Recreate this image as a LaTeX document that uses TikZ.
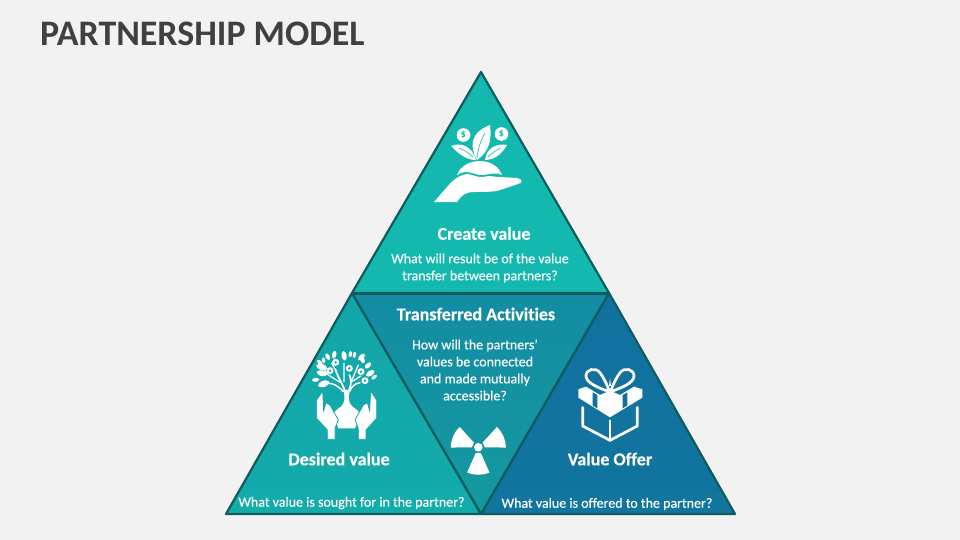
\documentclass[tikz,border=0pt]{standalone}
\usepackage{fontspec}
\setmainfont[Ligatures=CommonOff]{Carlito}
\definecolor{bgc}{HTML}{F2F2F2}
\definecolor{edgec}{HTML}{0E5C60}
\definecolor{titlec}{HTML}{404040}
\definecolor{tealA}{HTML}{13B9AF}
\definecolor{tealB}{HTML}{14ABAB}
\definecolor{tealC}{HTML}{13A6A9}
\definecolor{midA}{HTML}{138CA3}
\definecolor{midB}{HTML}{149A9F}
\definecolor{blueA}{HTML}{11709F}
\definecolor{blueB}{HTML}{11759E}
\tikzset{
  tri/.style={draw=edgec,line width=2.2pt,line join=round},
  head/.style={text=white,inner sep=0pt,font=\bfseries\fontsize{18}{20}\selectfont\addfontfeature{FakeBold=0.3},align=center},
  body/.style={text=white,inner sep=0pt,font=\fontsize{14}{17}\selectfont\addfontfeature{FakeBold=0.3},align=center},
  icoline/.style={draw=white,fill=none,line cap=round,line join=round},
  zoomscale/.style={x=0.3333pt,y=-0.3333pt},
}
\begin{document}
\begin{tikzpicture}[x=1pt,y=-1pt]
\useasboundingbox (0,0) rectangle (960,540);
\fill[bgc] (0,0) rectangle (960,540);
\node[anchor=west,text=titlec,inner sep=0pt,font=\bfseries\fontsize{35.9}{40}\selectfont] (title) at (40,34) {PARTNERSHIP MODEL};
% triangles
\coordinate (apex) at (481,72);
\coordinate (ml) at (352,293);
\coordinate (mr) at (609,293);
\coordinate (bl) at (226,514);
\coordinate (bm) at (481,514);
\coordinate (br) at (735,514);
\shade[top color=tealC,bottom color=tealB] (ml) -- (bm) -- (bl) -- cycle;
\draw[tri] (ml) -- (bm) -- (bl) -- cycle;
\shade[top color=blueA,bottom color=blueB] (mr) -- (br) -- (bm) -- cycle;
\draw[tri] (mr) -- (br) -- (bm) -- cycle;
\shade[top color=midA,bottom color=midB] (ml) -- (mr) -- (bm) -- cycle;
\draw[tri] (ml) -- (mr) -- (bm) -- cycle;
\fill[tealA] (apex) -- (mr) -- (ml) -- cycle;
\draw[tri] (apex) -- (mr) -- (ml) -- cycle;
\draw[edgec,line width=3pt] (ml) -- (mr);
% hand + plant icon
\begin{scope}
\fill[white] (434,202) -- (447,187) .. controls (452,181) and (457,176) .. (467,174) .. controls (473,174) and (477,178) .. (483,177) .. controls (490,175) and (493,177) .. (500,177) -- (517,178) .. controls (523,179) and (523,183) .. (518,184) -- (497,191) .. controls (490,192) and (482,192) .. (475,192) .. controls (465,192) and (462,195) .. (457,202) -- cycle;
\fill[white] (457,175) .. controls (460,166) and (470,161) .. (480,161) .. controls (491,161) and (499,167) .. (502,175) .. controls (495,172) and (490,174) .. (484,175) .. controls (478,176) and (472,172) .. (466,172) .. controls (462,172) and (459,174) .. (457,175) -- cycle;
\fill[white] (477,160) .. controls (470,148) and (469,133) .. (490,125) .. controls (492,140) and (489,152) .. (477,160) -- cycle;
\fill[white] (476,160) .. controls (465,160) and (457,152) .. (451,146) .. controls (461,142) and (472,146) .. (476,160) -- cycle;
\fill[white] (485,160) .. controls (486,148) and (497,143) .. (507,145) .. controls (503,152) and (496,160) .. (485,160) -- cycle;
\draw[tealA,line width=0.6pt] (477,158) .. controls (478,148) and (481,140) .. (485,133);
\draw[tealA,line width=0.6pt] (473,157) .. controls (469,153) and (464,150) .. (459,148);
\draw[tealA,line width=0.6pt] (488,157) .. controls (492,153) and (496,150) .. (501,148);
\fill[white] (463.5,135) circle (6.8);
\fill[white] (501.5,134) circle (6.8);
\node[text=tealA,inner sep=0pt,font=\bfseries\fontsize{10}{10}\selectfont] (coinA) at (463.5,135) {\$};
\node[text=tealA,inner sep=0pt,font=\bfseries\fontsize{10}{10}\selectfont] (coinB) at (501.5,134) {\$};
\end{scope}
% tree + hands icon (coordinates in 3x crop units)
\begin{scope}[shift={(290,340)},zoomscale]
\fill[white] (130,225) .. controls (135,205) and (155,205) .. (160,190) .. controls (166,175) and (163,160) .. (160,150) -- (180,150) .. controls (176,165) and (175,178) .. (180,190) .. controls (186,205) and (205,205) .. (212,225) -- (195,265) -- (145,265) -- cycle;
\draw[icoline,line width=1.8pt] (167,165) .. controls (163,135) and (148,125) .. (137,90);
\draw[icoline,line width=1.8pt] (172,165) .. controls (178,145) and (190,130) .. (178,105);
\draw[icoline,line width=1.5pt] (115,130) .. controls (130,130) and (145,138) .. (160,155);
\draw[icoline,line width=1.5pt] (210,128) .. controls (195,130) and (185,140) .. (178,155);
\draw[icoline,line width=1.3pt] (152,128) -- (115,105) (186,125) -- (212,108) (162,125) -- (162,70) (137,90) -- (125,70) (186,120) -- (205,75) (115,105) -- (100,85);
\foreach \xa/\ya/\xb/\yb in {97/75/82/60,118/60/108/40,130/56/135/32,165/62/160/33,180/52/182/33,192/54/195/35,205/60/224/42,222/70/212/48,225/85/243/68,228/108/253/92,245/118/260/105,112/86/78/76,112/104/80/96,88/118/66/121,118/125/84/138,102/70/100/52}
  \fill[white] (\xa,\ya) to[bend left=65] (\xb,\yb) to[bend left=65] (\xa,\ya) -- cycle;
\foreach \xc/\yc in {137/67,178/85,120/92,213/95,225/122}
 {\fill[white] (\xc,\yc) circle (10.5); \fill[tealC] (\xc,\yc) circle (4);}
\fill[white,draw=tealC,line width=0.8pt] (112,298) -- (135,298) -- (135,265) -- (145,240) -- (120,195) -- (108,188) -- (101,212) -- (98,153) -- (80,180) -- (80,235) -- (112,270) -- cycle;
\fill[white,draw=tealC,line width=0.8pt] (228,298) -- (205,298) -- (205,265) -- (195,240) -- (220,195) -- (232,188) -- (239,212) -- (242,153) -- (260,180) -- (260,235) -- (228,270) -- cycle;
\end{scope}
% gift icon (coordinates in 3x crop units)
\begin{scope}[shift={(560,350)},zoomscale]
\fill[white] (55,118) -- (78,110) -- (120,135) -- (150,122) -- (180,135) -- (222,110) -- (247,118) -- (247,143) -- (150,202) -- (55,143) -- cycle;
\fill[blueA] (98,127) -- (112,135) -- (112,175) -- (98,167) -- cycle;
\fill[blueA] (202,127) -- (188,135) -- (188,175) -- (202,167) -- cycle;
\draw[icoline,line width=2.7pt] (68,172) -- (68,228) -- (150,271) -- (232,228) -- (232,172);
\draw[icoline,line width=2.5pt] (150,212) -- (150,271);
\draw[icoline,line width=2.7pt] (148,125) .. controls (120,115) and (78,100) .. (78,78) .. controls (78,58) and (105,50) .. (120,68) .. controls (132,85) and (142,105) .. (148,125);
\draw[icoline,line width=2.7pt] (152,125) .. controls (180,115) and (222,100) .. (222,78) .. controls (222,58) and (195,50) .. (180,68) .. controls (168,85) and (158,105) .. (152,125);
\fill[white] (147,108) -- (150,85) -- (153,108) -- cycle;
\end{scope}
% radiation icon
\coordinate (rad) at (478.3,447.3);
\foreach \c in {-23.5,-156.5,90}
 \fill[white] ([shift={(\c-24:6.5)}]rad) -- ([shift={(\c-24:27.5)}]rad) arc[start angle=\c-24,end angle=\c+24,radius=27.5] -- ([shift={(\c+24:6.5)}]rad) -- cycle;
\fill[white] (rad) circle (4.3);
% text
\node[head] (create) at (484,233.5) {Create value};
\node[body] (createq) at (480,268) {What will result be of the value\\transfer between partners?};
\node[head] (trans) at (476,314) {Transferred Activities};
\node[body] (transq) at (475,370) {How will the partners’\\values be connected\\and made mutually\\accessible?};
\node[head] (desired) at (339,459) {Desired value};
\node[body] (desiredq) at (351.5,503) {What value is sought for in the partner?};
\node[head] (offer) at (610,459) {Value Offer};
\node[body] (offerq) at (607,504) {What value is offered to the partner?};
\end{tikzpicture}
\end{document}
